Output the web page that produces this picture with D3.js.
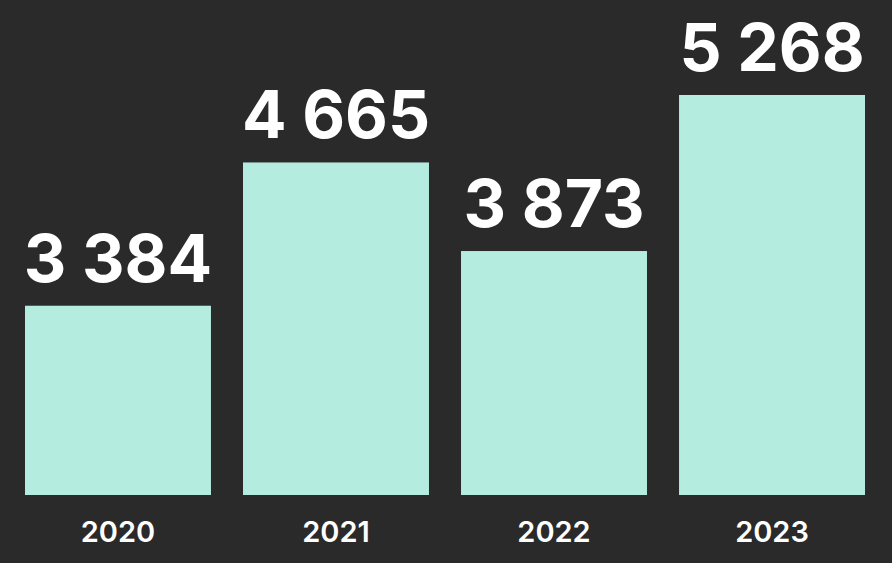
<!DOCTYPE html>
<html>
<head>
<meta charset="utf-8">
<script src="https://cdn.jsdelivr.net/npm/d3@7"></script>
<style>
  html, body { margin: 0; padding: 0; background: #2a2a2a; }
  svg { display: block; }
  text { font-family: Inter, "Open Sans", sans-serif; fill: #ffffff; }
</style>
</head>
<body>
<div id="chart"></div>
<script>
// Chart data
var years = ["2020", "2021", "2022", "2023"];
var values = [3384, 4665, 3873, 5268];

var width = 892;
var height = 563;
var baseline = 495;
var topY = 95;

var svg = d3.select("#chart")
    .append("svg")
    .attr("width", width)
    .attr("height", height);

svg.append("rect")
    .attr("width", width)
    .attr("height", height)
    .attr("fill", "#2a2a2a");

// x scale for the bars
var xScale = d3.scaleBand()
    .domain(years)
    .range([25, 865])
    .paddingInner(0.147)
    .paddingOuter(0);

// y scale does not start at zero in the original
var yMin = d3.min(values) * 0.5;
var yScale = d3.scaleLinear()
    .domain([yMin, d3.max(values)])
    .range([baseline, topY]);

var fmt = function(v) {
  return d3.format(",")(v).replace(/,/g, " ");
};

var data = years.map(function(y, i) { return {year: y, value: values[i]}; });

svg.selectAll("rect.bar")
    .data(data)
    .enter()
    .append("rect")
    .attr("class", "bar")
    .attr("x", function(d) { return xScale(d.year); })
    .attr("y", function(d) { return yScale(d.value); })
    .attr("width", xScale.bandwidth())
    .attr("height", function(d) { return baseline - yScale(d.value); })
    .attr("fill", "#b5ece0");

// value labels above bars
svg.selectAll("text.value")
    .data(data)
    .enter()
    .append("text")
    .attr("class", "value")
    .attr("x", function(d) { return xScale(d.year) + xScale.bandwidth() / 2; })
    .attr("y", function(d) { return yScale(d.value) - 24; })
    .attr("text-anchor", "middle")
    .attr("font-size", 66)
    .attr("font-weight", 700)
    .text(function(d) { return fmt(d.value); });

// year labels
var xAxis = d3.axisBottom(xScale).tickSize(0).tickPadding(0);
var axisG = svg.append("g")
    .attr("transform", "translate(0," + baseline + ")")
    .call(xAxis);
axisG.select(".domain").remove();
axisG.selectAll("text")
    .attr("dy", null)
    .attr("y", 47)
    .attr("font-size", 29)
    .attr("font-weight", 600)
    .style("font-family", "Inter, sans-serif")
    .attr("fill", "#ffffff");
</script>
</body>
</html>
